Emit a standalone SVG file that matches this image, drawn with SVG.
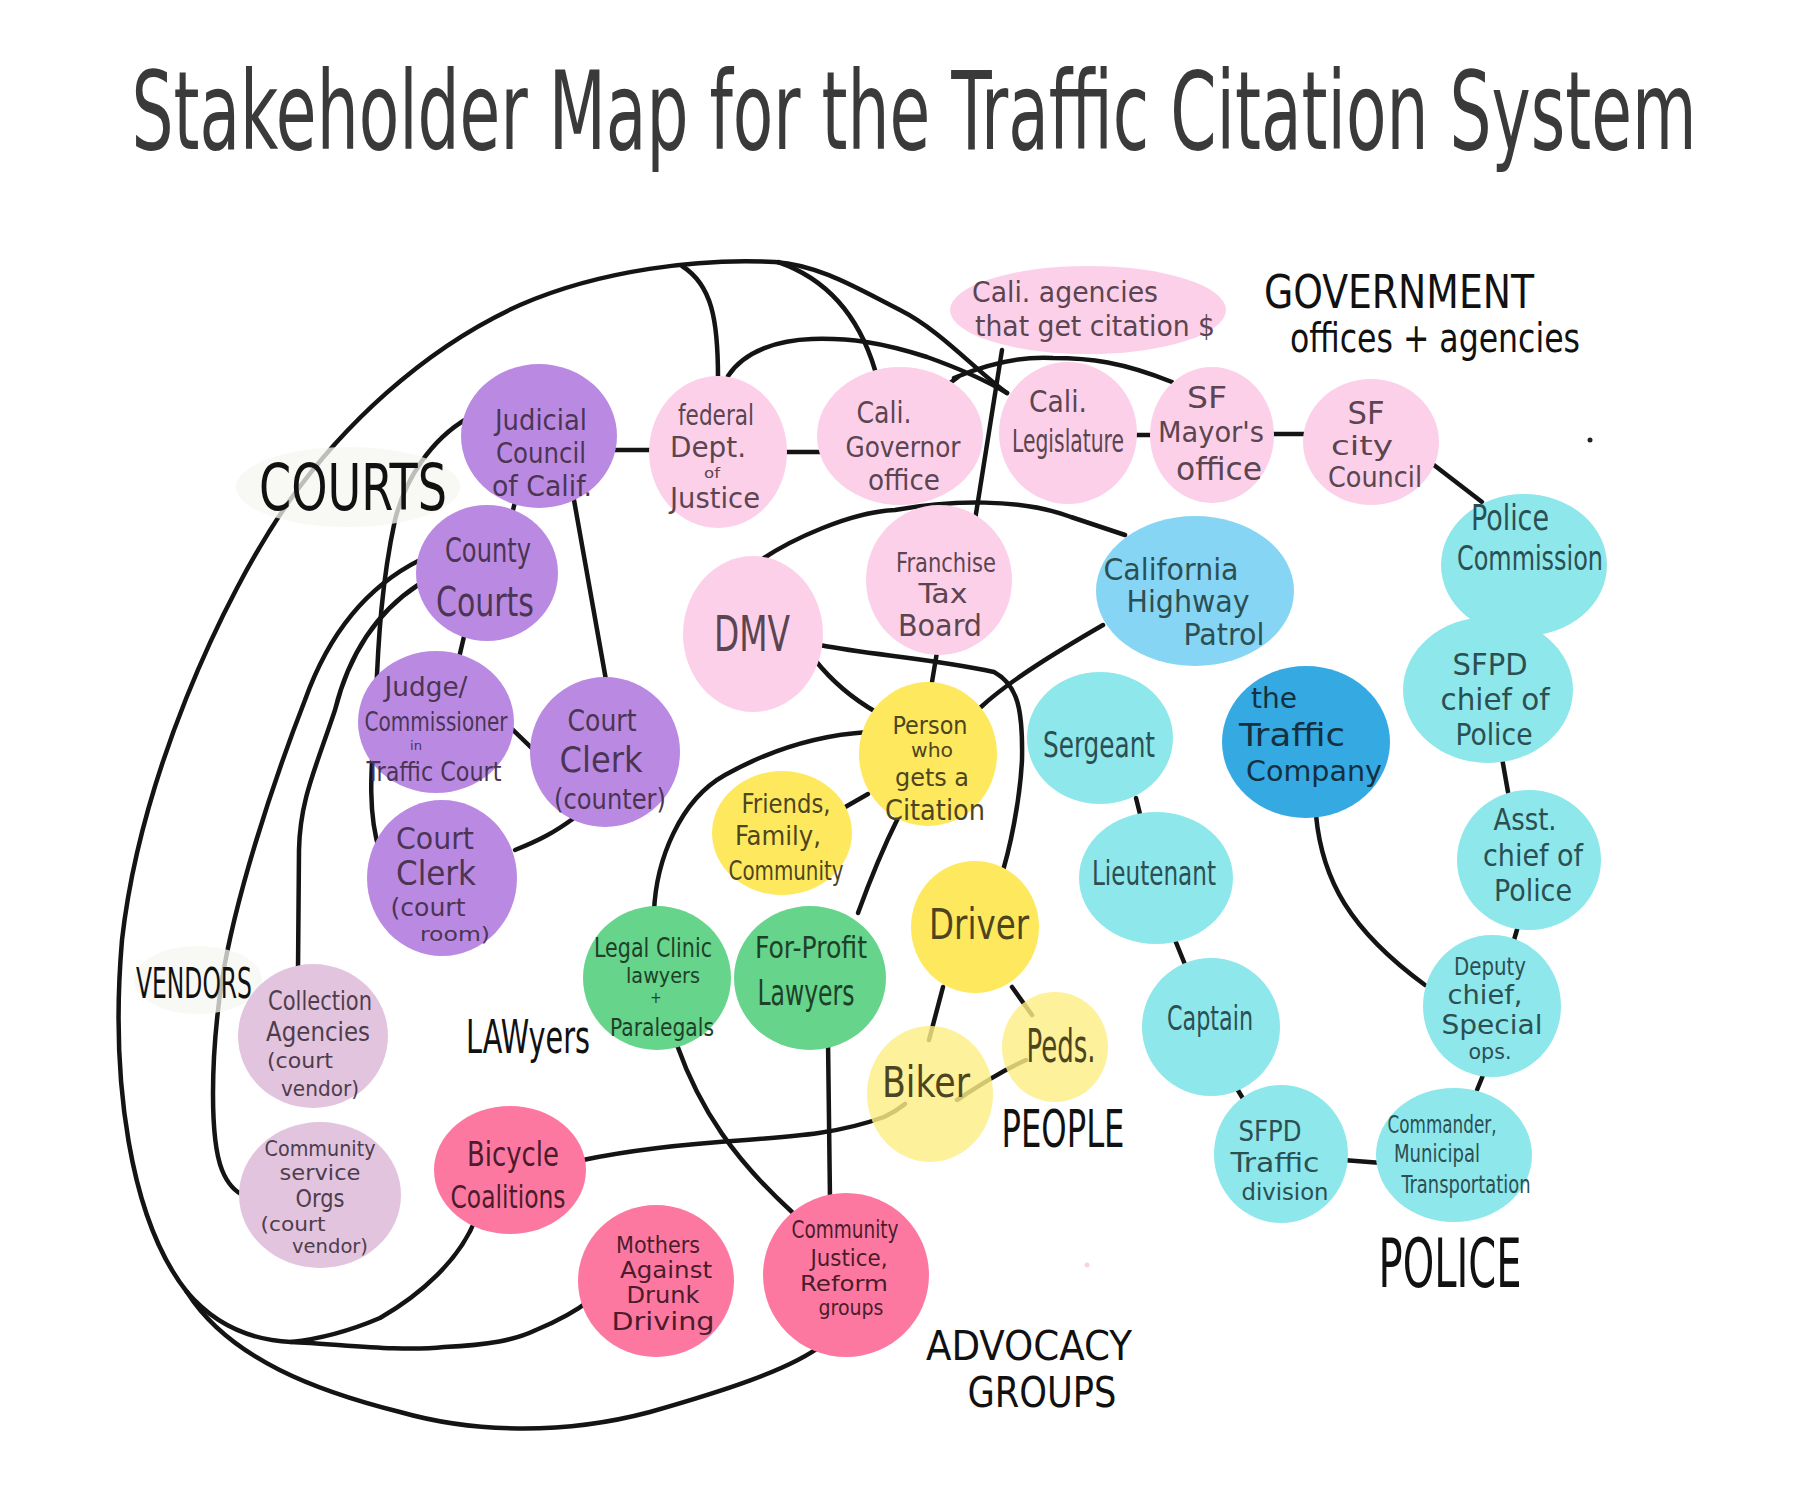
<svg xmlns="http://www.w3.org/2000/svg" width="1800" height="1499" viewBox="0 0 1800 1499">
<style>
text{font-family:'Liberation Sans Narrow','DejaVu Sans Condensed','Liberation Sans',sans-serif;text-anchor:middle}
.c{fill:none;stroke:#141414;stroke-width:4.5;stroke-linecap:round;stroke-linejoin:round}
.pu{fill:#ba8ae3}.pk{fill:#fdd0ea}.cy{fill:#8de7eb}.lb{fill:#86d5f5}.db{fill:#35a9e1}
.ye{fill:#fee95e}.ly{fill:#fdee85;fill-opacity:.82}.gr{fill:#66d48a}.mv{fill:#e2c4de}.hp{fill:#fd78a1}
.tp{fill:#4b3553}.tg{fill:#5a4550}.tc{fill:#2c4f52}.ty{fill:#4d4520}.tgr{fill:#1e4029}
.th{fill:#4a1c2c}.tm{fill:#4e3d4c}.tb{fill:#15303f}
.lab{fill:#111}
.ttl{fill:#3a3a3a}
</style>
<rect width="1800" height="1499" fill="#fff"/>

<text class="ttl" transform="translate(914,149) scale(1,1.6)" x="0" y="0" font-size="68" textLength="1565" lengthAdjust="spacingAndGlyphs">Stakeholder Map for the Traffic Citation System</text>

<g id="connectors">
<path class="c" d="M1007,393 C975,370 940,330 900,310 C860,290 820,265 775,262 C700,258 600,270 520,305 C420,350 340,430 290,500 C220,600 140,780 122,940 C110,1080 130,1220 187,1292"/>
<path class="c" d="M187,1292 C230,1360 320,1392 400,1412 C470,1432 560,1436 650,1412 C720,1392 790,1370 822,1345"/>
<path class="c" d="M187,1292 C215,1325 250,1340 291,1342 C340,1344 400,1352 444,1347 C490,1345 515,1340 536,1330 C560,1320 575,1312 590,1300"/>
<path class="c" d="M476,1218 C460,1260 420,1295 380,1318 C340,1335 310,1340 291,1342"/>
<path class="c" d="M583,1160 C640,1148 700,1143 746,1140 C800,1136 840,1133 884,1117 C895,1112 900,1108 905,1104"/>
<path class="c" d="M677,1045 C700,1110 735,1160 792,1212"/>
<path class="c" d="M828,1040 L830,1200"/>
<path class="c" d="M654,912 C656,860 680,800 725,775 C770,750 820,735 868,732"/>
<path class="c" d="M840,810 L868,794"/>
<path class="c" d="M858,913 C870,880 882,850 898,818"/>
<path class="c" d="M515,850 C540,840 555,832 574,818"/>
<path class="c" d="M508,725 L542,758"/>
<path class="c" d="M468,418 C430,440 405,480 395,520 C382,580 378,640 376,700 C372,760 366,810 380,852"/>
<path class="c" d="M420,560 C370,585 330,630 305,700 C270,790 235,900 222,980 C210,1060 210,1140 222,1170 C228,1185 235,1192 245,1196"/>
<path class="c" d="M418,585 C380,610 350,650 335,710 C315,770 300,800 299,850 L298,970"/>
<path class="c" d="M574,500 L606,680"/>
<path class="c" d="M518,490 L510,522"/>
<path class="c" d="M466,628 L458,662"/>
<path class="c" d="M600,450 L660,450"/>
<path class="c" d="M780,452 L830,452"/>
<path class="c" d="M1125,435 L1160,435"/>
<path class="c" d="M1265,434 L1315,434"/>
<path class="c" d="M1430,462 L1482,502"/>
<path class="c" d="M1492,595 L1484,625"/>
<path class="c" d="M718,378 C718,320 712,285 682,266"/>
<path class="c" d="M875,370 C860,320 830,280 778,262"/>
<path class="c" d="M728,376 C745,350 780,340 812,339 C850,338 880,342 927,357 C955,367 985,380 1007,393"/>
<path class="c" d="M954,378 C985,365 1020,356 1053,358 C1090,358 1122,362 1172,382"/>
<path class="c" d="M950,383 L958,377"/>
<path class="c" d="M1002,350 L975,520"/>
<path class="c" d="M761,560 C790,540 850,512 895,510 C950,500 1020,498 1071,517 C1095,525 1110,530 1125,535"/>
<path class="c" d="M820,645 C870,655 930,658 994,672 C1018,685 1023,710 1022,760 C1020,800 1010,850 1000,880"/>
<path class="c" d="M937,652 L931,688"/>
<path class="c" d="M815,660 C835,685 855,700 876,712"/>
<path class="c" d="M1103,625 C1060,650 1010,680 981,707"/>
<path class="c" d="M943,987 L929,1040"/>
<path class="c" d="M1012,987 L1032,1015"/>
<path class="c" d="M957,1100 C980,1085 1000,1072 1026,1060"/>
<path class="c" d="M1136,798 L1142,822"/>
<path class="c" d="M1173,935 L1186,967"/>
<path class="c" d="M1230,1077 L1248,1107"/>
<path class="c" d="M1343,1160 L1382,1163"/>
<path class="c" d="M1477,1090 L1488,1063"/>
<path class="c" d="M1514,940 L1521,916"/>
<path class="c" d="M1508,792 L1502,758"/>
<path class="c" d="M1316,815 C1322,880 1350,930 1425,985"/>
</g>

<g id="label-courts">
<ellipse cx="348" cy="487" rx="112" ry="40" fill="#f6f6f0" fill-opacity=".75"/>
<text class="lab" x="353" y="510" font-size="64" textLength="188" lengthAdjust="spacingAndGlyphs">COURTS</text>
</g>
<g id="label-government">
<text class="lab" x="1399" y="308" font-size="46" textLength="270" lengthAdjust="spacingAndGlyphs">GOVERNMENT</text>
<text class="lab" x="1435" y="352" font-size="40" textLength="290" lengthAdjust="spacingAndGlyphs">offices + agencies</text>
</g>
<g id="label-vendors">
<ellipse cx="198" cy="980" rx="64" ry="34" fill="#f6f6f0" fill-opacity=".75"/>
<text class="lab" transform="translate(194,998) scale(1,1.5)" x="0" y="0" font-size="28" textLength="116" lengthAdjust="spacingAndGlyphs">VENDORS</text>
</g>
<g id="label-lawyers"><text class="lab" transform="translate(528,1053) scale(1,1.3)" x="0" y="0" font-size="36" textLength="124" lengthAdjust="spacingAndGlyphs">LAWyers</text></g>
<g id="label-people"><text class="lab" x="1063" y="1147" font-size="52" textLength="123" lengthAdjust="spacingAndGlyphs">PEOPLE</text></g>
<g id="label-police"><text class="lab" x="1450" y="1287" font-size="68" textLength="143" lengthAdjust="spacingAndGlyphs">POLICE</text></g>
<g id="label-advocacy">
<text class="lab" x="1029" y="1360" font-size="40" textLength="206" lengthAdjust="spacingAndGlyphs">ADVOCACY</text>
<text class="lab" x="1042" y="1407" font-size="42" textLength="149" lengthAdjust="spacingAndGlyphs">GROUPS</text>
</g>

<g id="judicial-council">
<ellipse class="pu" cx="539" cy="436" rx="78" ry="72"/>
<text class="tp" x="541" y="430" font-size="29" textLength="92" lengthAdjust="spacingAndGlyphs">Judicial</text>
<text class="tp" x="541" y="463" font-size="29" textLength="90" lengthAdjust="spacingAndGlyphs">Council</text>
<text class="tp" x="542" y="496" font-size="29" textLength="100" lengthAdjust="spacingAndGlyphs">of Calif.</text>
</g>
<g id="county-courts">
<ellipse class="pu" cx="487" cy="573" rx="71" ry="68"/>
<text class="tp" x="488" y="562" font-size="34" textLength="86" lengthAdjust="spacingAndGlyphs">County</text>
<text class="tp" x="485" y="616" font-size="40" textLength="98" lengthAdjust="spacingAndGlyphs">Courts</text>
</g>
<g id="judge">
<ellipse class="pu" cx="436" cy="722" rx="78" ry="71"/>
<text class="tp" x="426" y="696" font-size="27" textLength="83" lengthAdjust="spacingAndGlyphs">Judge/</text>
<text class="tp" x="436" y="731" font-size="26" textLength="143" lengthAdjust="spacingAndGlyphs">Commissioner</text>
<text class="tp" x="416" y="750" font-size="13" textLength="12" lengthAdjust="spacingAndGlyphs">in</text>
<text class="tp" x="434" y="781" font-size="27" textLength="135" lengthAdjust="spacingAndGlyphs">Traffic Court</text>
</g>
<g id="court-clerk-counter">
<ellipse class="pu" cx="605" cy="752" rx="75" ry="75"/>
<text class="tp" x="602" y="731" font-size="31" textLength="69" lengthAdjust="spacingAndGlyphs">Court</text>
<text class="tp" x="601" y="772" font-size="35" textLength="83" lengthAdjust="spacingAndGlyphs">Clerk</text>
<text class="tp" x="610" y="809" font-size="28" textLength="112" lengthAdjust="spacingAndGlyphs">(counter)</text>
</g>
<g id="court-clerk-courtroom">
<ellipse class="pu" cx="442" cy="878" rx="75" ry="78"/>
<text class="tp" x="435" y="849" font-size="31" textLength="78" lengthAdjust="spacingAndGlyphs">Court</text>
<text class="tp" x="436" y="885" font-size="33" textLength="80" lengthAdjust="spacingAndGlyphs">Clerk</text>
<text class="tp" x="428" y="916" font-size="25" textLength="75" lengthAdjust="spacingAndGlyphs">(court</text>
<text class="tp" x="455" y="941" font-size="20" textLength="70" lengthAdjust="spacingAndGlyphs">room)</text>
</g>

<g id="federal-doj">
<ellipse class="pk" cx="718" cy="452" rx="69" ry="76"/>
<text class="tg" x="716" y="425" font-size="29" textLength="76" lengthAdjust="spacingAndGlyphs">federal</text>
<text class="tg" x="708" y="457" font-size="29" textLength="76" lengthAdjust="spacingAndGlyphs">Dept.</text>
<text class="tg" x="712" y="478" font-size="14" textLength="16" lengthAdjust="spacingAndGlyphs">of</text>
<text class="tg" x="715" y="508" font-size="29" textLength="90" lengthAdjust="spacingAndGlyphs">Justice</text>
</g>
<g id="governor">
<ellipse class="pk" cx="900" cy="436" rx="83" ry="69"/>
<text class="tg" x="884" y="423" font-size="30" textLength="55" lengthAdjust="spacingAndGlyphs">Cali.</text>
<text class="tg" x="903" y="457" font-size="29" textLength="115" lengthAdjust="spacingAndGlyphs">Governor</text>
<text class="tg" x="904" y="490" font-size="29" textLength="72" lengthAdjust="spacingAndGlyphs">office</text>
</g>
<g id="cali-agencies">
<ellipse class="pk" cx="1088" cy="310" rx="138" ry="44"/>
<text class="tg" x="1065" y="302" font-size="28" textLength="186" lengthAdjust="spacingAndGlyphs">Cali. agencies</text>
<text class="tg" x="1095" y="336" font-size="28" textLength="240" lengthAdjust="spacingAndGlyphs">that get citation $</text>
</g>
<g id="legislature">
<ellipse class="pk" cx="1068" cy="433" rx="69" ry="71"/>
<text class="tg" x="1058" y="412" font-size="31" textLength="58" lengthAdjust="spacingAndGlyphs">Cali.</text>
<text class="tg" x="1068" y="452" font-size="32" textLength="112" lengthAdjust="spacingAndGlyphs">Legislature</text>
</g>
<g id="sf-mayor">
<ellipse class="pk" cx="1212" cy="435" rx="62" ry="68"/>
<text class="tg" x="1207" y="408" font-size="30" textLength="40" lengthAdjust="spacingAndGlyphs">SF</text>
<text class="tg" x="1211" y="442" font-size="29" textLength="106" lengthAdjust="spacingAndGlyphs">Mayor's</text>
<text class="tg" x="1219" y="480" font-size="32" textLength="86" lengthAdjust="spacingAndGlyphs">office</text>
</g>
<g id="sf-council">
<ellipse class="pk" cx="1371" cy="442" rx="68" ry="63"/>
<text class="tg" x="1366" y="424" font-size="32" textLength="37" lengthAdjust="spacingAndGlyphs">SF</text>
<text class="tg" x="1362" y="455" font-size="27" textLength="62" lengthAdjust="spacingAndGlyphs">city</text>
<text class="tg" x="1375" y="487" font-size="29" textLength="94" lengthAdjust="spacingAndGlyphs">Council</text>
</g>
<g id="dmv">
<ellipse class="pk" cx="753" cy="634" rx="70" ry="78"/>
<text class="tg" x="752" y="651" font-size="50" textLength="76" lengthAdjust="spacingAndGlyphs">DMV</text>
</g>
<g id="franchise-tax-board">
<ellipse class="pk" cx="939" cy="580" rx="73" ry="75"/>
<text class="tg" x="946" y="572" font-size="27" textLength="100" lengthAdjust="spacingAndGlyphs">Franchise</text>
<text class="tg" x="943" y="603" font-size="27" textLength="49" lengthAdjust="spacingAndGlyphs">Tax</text>
<text class="tg" x="940" y="636" font-size="30" textLength="84" lengthAdjust="spacingAndGlyphs">Board</text>
</g>
<g id="chp">
<ellipse class="lb" cx="1195" cy="591" rx="99" ry="75"/>
<text class="tc" x="1171" y="580" font-size="30" textLength="135" lengthAdjust="spacingAndGlyphs">California</text>
<text class="tc" x="1188" y="612" font-size="30" textLength="123" lengthAdjust="spacingAndGlyphs">Highway</text>
<text class="tc" x="1224" y="645" font-size="30" textLength="81" lengthAdjust="spacingAndGlyphs">Patrol</text>
</g>

<g id="police-commission">
<ellipse class="cy" cx="1524" cy="565" rx="83" ry="71"/>
<text class="tc" x="1510" y="530" font-size="35" textLength="78" lengthAdjust="spacingAndGlyphs">Police</text>
<text class="tc" x="1530" y="570" font-size="34" textLength="146" lengthAdjust="spacingAndGlyphs">Commission</text>
</g>
<g id="sfpd-chief">
<ellipse class="cy" cx="1488" cy="690" rx="85" ry="73"/>
<text class="tc" x="1490" y="675" font-size="31" textLength="75" lengthAdjust="spacingAndGlyphs">SFPD</text>
<text class="tc" x="1495" y="710" font-size="31" textLength="109" lengthAdjust="spacingAndGlyphs">chief of</text>
<text class="tc" x="1494" y="745" font-size="31" textLength="77" lengthAdjust="spacingAndGlyphs">Police</text>
</g>
<g id="asst-chief">
<ellipse class="cy" cx="1529" cy="860" rx="72" ry="70"/>
<text class="tc" x="1525" y="830" font-size="31" textLength="63" lengthAdjust="spacingAndGlyphs">Asst.</text>
<text class="tc" x="1533" y="866" font-size="31" textLength="100" lengthAdjust="spacingAndGlyphs">chief of</text>
<text class="tc" x="1533" y="901" font-size="31" textLength="78" lengthAdjust="spacingAndGlyphs">Police</text>
</g>
<g id="deputy-chief">
<ellipse class="cy" cx="1492" cy="1006" rx="69" ry="71"/>
<text class="tc" x="1490" y="975" font-size="25" textLength="72" lengthAdjust="spacingAndGlyphs">Deputy</text>
<text class="tc" x="1485" y="1004" font-size="26" textLength="75" lengthAdjust="spacingAndGlyphs">chief,</text>
<text class="tc" x="1492" y="1034" font-size="26" textLength="101" lengthAdjust="spacingAndGlyphs">Special</text>
<text class="tc" x="1490" y="1059" font-size="21" textLength="43" lengthAdjust="spacingAndGlyphs">ops.</text>
</g>
<g id="commander">
<ellipse class="cy" cx="1454" cy="1155" rx="78" ry="67"/>
<text class="tc" x="1442" y="1133" font-size="25" textLength="109" lengthAdjust="spacingAndGlyphs">Commander,</text>
<text class="tc" x="1437" y="1162" font-size="25" textLength="86" lengthAdjust="spacingAndGlyphs">Municipal</text>
<text class="tc" x="1466" y="1193" font-size="25" textLength="129" lengthAdjust="spacingAndGlyphs">Transportation</text>
</g>
<g id="sfpd-traffic-division">
<ellipse class="cy" cx="1281" cy="1154" rx="67" ry="69"/>
<text class="tc" x="1270" y="1141" font-size="28" textLength="63" lengthAdjust="spacingAndGlyphs">SFPD</text>
<text class="tc" x="1275" y="1172" font-size="27" textLength="89" lengthAdjust="spacingAndGlyphs">Traffic</text>
<text class="tc" x="1285" y="1200" font-size="23" textLength="87" lengthAdjust="spacingAndGlyphs">division</text>
</g>
<g id="captain">
<ellipse class="cy" cx="1211" cy="1027" rx="69" ry="69"/>
<text class="tc" x="1210" y="1030" font-size="34" textLength="86" lengthAdjust="spacingAndGlyphs">Captain</text>
</g>
<g id="lieutenant">
<ellipse class="cy" cx="1156" cy="878" rx="77" ry="66"/>
<text class="tc" x="1154" y="885" font-size="34" textLength="124" lengthAdjust="spacingAndGlyphs">Lieutenant</text>
</g>
<g id="sergeant">
<ellipse class="cy" cx="1100" cy="738" rx="73" ry="66"/>
<text class="tc" x="1099" y="757" font-size="36" textLength="112" lengthAdjust="spacingAndGlyphs">Sergeant</text>
</g>
<g id="traffic-company">
<ellipse class="db" cx="1306" cy="742" rx="84" ry="76"/>
<text class="tb" x="1274" y="708" font-size="28" textLength="46" lengthAdjust="spacingAndGlyphs">the</text>
<text class="tb" x="1292" y="746" font-size="32" textLength="106" lengthAdjust="spacingAndGlyphs">Traffic</text>
<text class="tb" x="1314" y="781" font-size="28" textLength="136" lengthAdjust="spacingAndGlyphs">Company</text>
</g>

<g id="person">
<ellipse class="ye" cx="928" cy="754" rx="69" ry="72"/>
<text class="ty" x="930" y="734" font-size="25" textLength="75" lengthAdjust="spacingAndGlyphs">Person</text>
<text class="ty" x="932" y="757" font-size="19" textLength="42" lengthAdjust="spacingAndGlyphs">who</text>
<text class="ty" x="932" y="786" font-size="24" textLength="74" lengthAdjust="spacingAndGlyphs">gets a</text>
<text class="ty" x="935" y="820" font-size="28" textLength="100" lengthAdjust="spacingAndGlyphs">Citation</text>
</g>
<g id="friends">
<ellipse class="ye" cx="782" cy="833" rx="70" ry="62"/>
<text class="ty" x="786" y="813" font-size="27" textLength="89" lengthAdjust="spacingAndGlyphs">Friends,</text>
<text class="ty" x="778" y="845" font-size="27" textLength="86" lengthAdjust="spacingAndGlyphs">Family,</text>
<text class="ty" x="786" y="880" font-size="27" textLength="115" lengthAdjust="spacingAndGlyphs">Community</text>
</g>
<g id="driver">
<ellipse class="ye" cx="975" cy="927" rx="64" ry="66"/>
<text class="ty" x="979" y="939" font-size="42" textLength="100" lengthAdjust="spacingAndGlyphs">Driver</text>
</g>
<g id="biker">
<ellipse class="ly" cx="930" cy="1094" rx="63" ry="68"/>
<text class="ty" x="926" y="1097" font-size="42" textLength="88" lengthAdjust="spacingAndGlyphs">Biker</text>
</g>
<g id="peds">
<ellipse class="ly" cx="1055" cy="1047" rx="53" ry="55"/>
<text class="ty" x="1061" y="1062" font-size="46" textLength="69" lengthAdjust="spacingAndGlyphs">Peds.</text>
</g>

<g id="legal-clinic">
<ellipse class="gr" cx="657" cy="978" rx="74" ry="72"/>
<text class="tgr" x="653" y="957" font-size="26" textLength="118" lengthAdjust="spacingAndGlyphs">Legal Clinic</text>
<text class="tgr" x="663" y="983" font-size="21" textLength="74" lengthAdjust="spacingAndGlyphs">lawyers</text>
<text class="tgr" x="656" y="1003" font-size="15">+</text>
<text class="tgr" x="662" y="1036" font-size="25" textLength="104" lengthAdjust="spacingAndGlyphs">Paralegals</text>
</g>
<g id="for-profit-lawyers">
<ellipse class="gr" cx="810" cy="978" rx="76" ry="72"/>
<text class="tgr" x="811" y="958" font-size="30" textLength="112" lengthAdjust="spacingAndGlyphs">For-Profit</text>
<text class="tgr" x="806" y="1005" font-size="36" textLength="97" lengthAdjust="spacingAndGlyphs">Lawyers</text>
</g>

<g id="collection-agencies">
<ellipse class="mv" cx="313" cy="1036" rx="75" ry="72"/>
<text class="tm" x="320" y="1010" font-size="26" textLength="104" lengthAdjust="spacingAndGlyphs">Collection</text>
<text class="tm" x="318" y="1041" font-size="27" textLength="104" lengthAdjust="spacingAndGlyphs">Agencies</text>
<text class="tm" x="300" y="1068" font-size="21" textLength="66" lengthAdjust="spacingAndGlyphs">(court</text>
<text class="tm" x="320" y="1096" font-size="22" textLength="78" lengthAdjust="spacingAndGlyphs">vendor)</text>
</g>
<g id="community-service-orgs">
<ellipse class="mv" cx="320" cy="1195" rx="81" ry="73"/>
<text class="tm" x="320" y="1156" font-size="22" textLength="111" lengthAdjust="spacingAndGlyphs">Community</text>
<text class="tm" x="320" y="1180" font-size="21" textLength="81" lengthAdjust="spacingAndGlyphs">service</text>
<text class="tm" x="320" y="1207" font-size="24" textLength="49" lengthAdjust="spacingAndGlyphs">Orgs</text>
<text class="tm" x="293" y="1231" font-size="19" textLength="65" lengthAdjust="spacingAndGlyphs">(court</text>
<text class="tm" x="330" y="1253" font-size="19" textLength="76" lengthAdjust="spacingAndGlyphs">vendor)</text>
</g>

<g id="bicycle-coalitions">
<ellipse class="hp" cx="510" cy="1170" rx="76" ry="64"/>
<text class="th" x="513" y="1166" font-size="33" textLength="92" lengthAdjust="spacingAndGlyphs">Bicycle</text>
<text class="th" x="508" y="1208" font-size="32" textLength="115" lengthAdjust="spacingAndGlyphs">Coalitions</text>
</g>
<g id="madd">
<ellipse class="hp" cx="656" cy="1281" rx="78" ry="76"/>
<text class="th" x="658" y="1253" font-size="23" textLength="84" lengthAdjust="spacingAndGlyphs">Mothers</text>
<text class="th" x="666" y="1278" font-size="23" textLength="92" lengthAdjust="spacingAndGlyphs">Against</text>
<text class="th" x="663" y="1303" font-size="23" textLength="73" lengthAdjust="spacingAndGlyphs">Drunk</text>
<text class="th" x="663" y="1330" font-size="25" textLength="103" lengthAdjust="spacingAndGlyphs">Driving</text>
</g>
<g id="community-justice">
<ellipse class="hp" cx="846" cy="1275" rx="83" ry="82"/>
<text class="th" x="845" y="1238" font-size="24" textLength="107" lengthAdjust="spacingAndGlyphs">Community</text>
<text class="th" x="849" y="1266" font-size="23" textLength="77" lengthAdjust="spacingAndGlyphs">Justice,</text>
<text class="th" x="844" y="1291" font-size="22" textLength="88" lengthAdjust="spacingAndGlyphs">Reform</text>
<text class="th" x="851" y="1315" font-size="21" textLength="65" lengthAdjust="spacingAndGlyphs">groups</text>
</g>

<circle cx="1590" cy="440" r="2.5" fill="#222"/>
<circle cx="1087" cy="1265" r="2.5" fill="#fbd0e6"/>
</svg>
